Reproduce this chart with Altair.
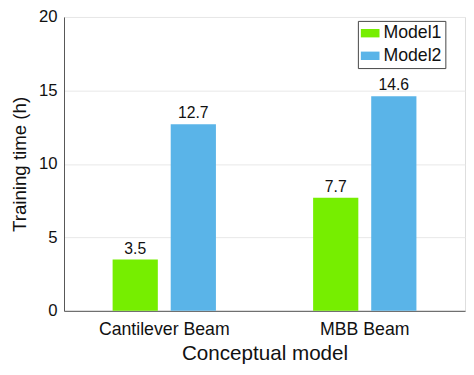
import altair as alt
import pandas as pd

categories = ["Cantilever Beam", "MBB Beam"]
series = ["Model1", "Model2"]
model1 = [3.5, 7.7]
model2 = [12.7, 14.6]
colors = ["#76EE00", "#5AB4E8"]

rows = []
for i, c in enumerate(categories):
    rows.append({"cat": c, "model": series[0], "val": model1[i], "lab": f"{model1[i]:.1f}"})
    rows.append({"cat": c, "model": series[1], "val": model2[i], "lab": f"{model2[i]:.1f}"})
df = pd.DataFrame(rows)

FONT = "Liberation Sans"

x = alt.X("cat:N", sort=categories, title="Conceptual model",
          scale=alt.Scale(paddingInner=0, paddingOuter=0),
          axis=alt.Axis(labelAngle=0, labelFontSize=18, titleFontSize=21, labelPadding=10,
                        titlePadding=5, ticks=False, domainColor="#555", labelColor="#111",
                        titleColor="#111", titleFontWeight="normal", grid=False))
xo = alt.XOffset("model:N", sort=series, scale=alt.Scale(paddingInner=0.213, paddingOuter=0.832))
y = alt.Y("val:Q", title="Training time (h)",
          scale=alt.Scale(domain=[0, 20], nice=False),
          axis=alt.Axis(values=[0, 5, 10, 15, 20], labelFontSize=17, titleFontSize=19,
                        ticks=False, labelPadding=7, titlePadding=9, domainColor="#555",
                        gridColor="#e8e8e8", labelColor="#111", titleColor="#111",
                        titleFontWeight="normal"))

base = alt.Chart(df)
bars = base.mark_bar(size=46).encode(
    x=x, xOffset=xo, y=y,
    color=alt.Color("model:N", sort=series, scale=alt.Scale(domain=series, range=colors),
                    legend=alt.Legend(title=None, orient="none", legendX=299, legendY=4,
                                      strokeColor="#444", fillColor="white", padding=3,
                                      labelFontSize=18, labelColor="#111", rowPadding=4,
                                      symbolType="M-1,-0.45H1V0.45H-1Z", symbolSize=360,
                                      symbolStrokeWidth=0, symbolOpacity=1, labelOffset=4))
)
text = base.mark_text(dy=-11, fontSize=16, color="#111", font=FONT).encode(
    x=x, xOffset=xo, y=y, text="lab:N"
)

chart = alt.layer(bars, text).properties(
    width=408, height=299,
    autosize=alt.AutoSizeParams(type="none"),
    padding={"left": 57, "top": 6, "right": 1, "bottom": 54},
).configure_view(stroke="#555", strokeWidth=1).configure(font=FONT)

chart.save("out.html", embed_options={"renderer": "svg", "actions": False})
